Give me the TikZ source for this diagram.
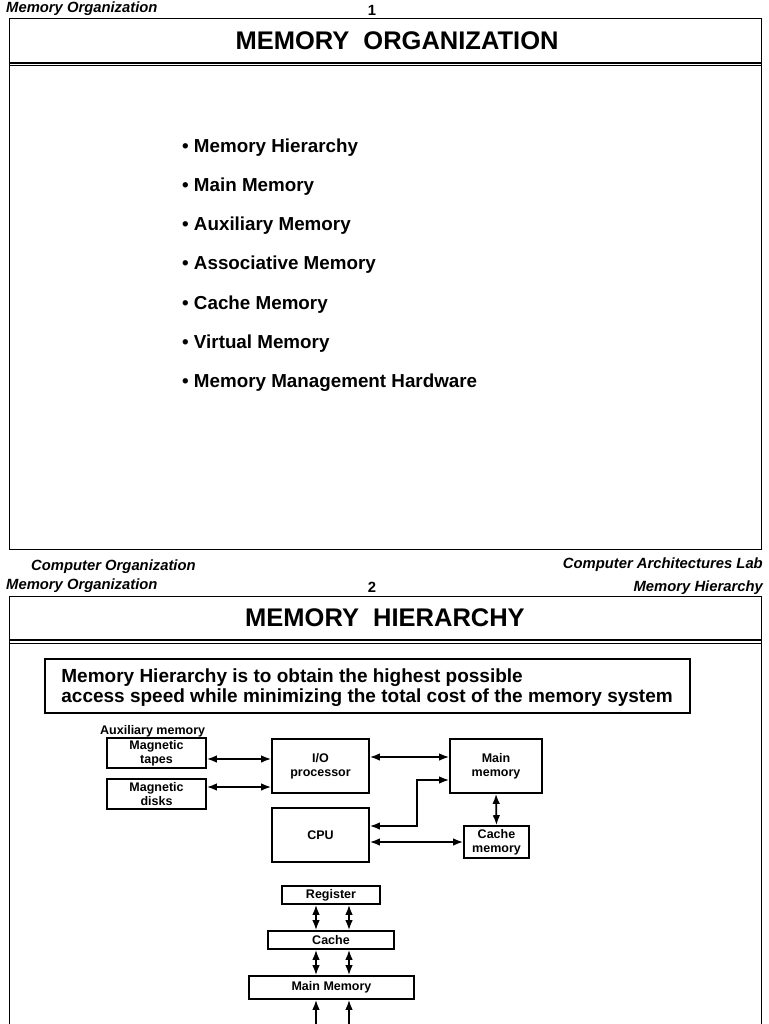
\documentclass[tikz,border=0pt]{standalone}
\usepackage{fontspec}
\setmainfont{Liberation Sans}
\usetikzlibrary{arrows.meta,positioning}
\newcommand{\SlideTop}[3]{% top y, title, title x
\draw[line width=1pt] (9,1060) -- (9,#1) -- (761,#1) -- (761,1060);
\draw[line width=1.2pt] (9,#1+44) -- (761,#1+44);
\draw[line width=1pt] (9,#1+47) -- (761,#1+47);
\node[title] at (#3,#1+22) {#2};
}
\newcommand{\PageMark}[4]{% y, left text, number, right text
\node[hdr,anchor=west] at (6,#1) {#2};
\node[hdrnum] at (372,#1+1) {#3};
\node[hdr,anchor=east] at (763,#1+2) {#4};
}

\begin{document}
\begin{tikzpicture}[x=1pt,y=-1pt,
  hdr/.style={inner sep=0pt,font=\fontsize{14.8}{16}\selectfont\bfseries\itshape},
  hdrnum/.style={inner sep=0pt,font=\fontsize{14.8}{16}\selectfont\bfseries},
  title/.style={inner sep=0pt,font=\fontsize{25.5}{28}\selectfont\bfseries},
  bul/.style={inner sep=0pt,anchor=west,font=\fontsize{18.8}{21}\selectfont\bfseries},
  blk/.style={draw,line width=1.6pt,inner sep=0pt,align=center,
    font=\fontsize{12.5}{14}\selectfont\bfseries},
  conn/.style={arrows={Latex[length=10pt,width=7.5pt]-Latex[length=10pt,width=7.5pt]},line width=1.7pt}]
\useasboundingbox (0,0) rectangle (768,1024);
% slide 1
\node[hdr,anchor=west] (mark1) at (6,9) {Memory Organization};
\node[hdrnum] (num1) at (372,10) {1};
\draw[line width=1pt] (9,19) rectangle (761,549);
\draw[line width=1.2pt] (9,63) -- (761,63);
\draw[line width=1pt] (9,66) -- (761,66);
\node[title] (title1) at (397,41) {MEMORY\ \ ORGANIZATION};
\foreach \topic [count=\i from 0] in {Memory Hierarchy,Main Memory,Auxiliary Memory,
  Associative Memory,Cache Memory,Virtual Memory,Memory Management Hardware}
  \node[bul] (b\i) at (182,{147.5+39.2*\i}) {• \topic};
\node[hdr,anchor=west] (foot1) at (31,567) {Computer Organization};
\node[hdr,anchor=east] (lab1) at (763,565) {Computer Architectures Lab};
% slide 2
\PageMark{586}{Memory Organization}{2}{Memory Hierarchy}
\SlideTop{596}{MEMORY\ \ HIERARCHY}{385}
\node[draw,line width=1.6pt,minimum width=645,minimum height=54,inner sep=0pt]
  (goal) at (367.5,686) {};
\node[inner sep=0pt,anchor=west,align=left,font=\fontsize{19}{19.5}\selectfont\bfseries]
  (goaltxt) at ([xshift=17pt,yshift=-1.5pt]goal.west)
  {Memory Hierarchy is to obtain the highest possible\\
   access speed while minimizing the total cost of the memory system};
% block diagram
\node[inner sep=0pt,anchor=west,font=\fontsize{12.5}{13.5}\selectfont\bfseries]
  (aux) at (100,731) {Auxiliary memory};
\node[blk,minimum width=99,minimum height=30] (tapes) at (156.5,753) {Magnetic\\tapes};
\node[blk,minimum width=99,minimum height=30] (disks) at (156.5,794) {Magnetic\\disks};
\node[blk,minimum width=97,minimum height=54] (iop) at (320.5,766) {I/O\\processor};
\node[blk,minimum width=97,minimum height=54] (cpu) at (320.5,835) {CPU};
\node[blk,minimum width=92,minimum height=54] (mainm) at (496,766) {Main\\memory};
\node[blk,minimum width=65,minimum height=32] (cachem) at (496.5,842) {Cache\\memory};
\coordinate (bend) at (417,826);
\draw[conn] ([yshift=-6pt]tapes.east) -- ([yshift=-6pt]tapes.east -| iop.west);
\draw[conn] ([yshift=7pt]disks.east) -- ([yshift=7pt]disks.east -| iop.west);
\draw[conn] ([yshift=9pt]iop.east) -- ([yshift=9pt]iop.east -| mainm.west);
\draw[conn] ([yshift=-14pt]mainm.west) -| (bend) -- (bend -| cpu.east);
\draw[conn] (cachem.west -| cpu.east) -- (cachem.west);
\draw[conn] (mainm.south) -- (cachem.north);
% hierarchy stack
\node[blk,minimum width=98,minimum height=18] (reg) at (331,895) {Register};
\node[blk,minimum width=126,minimum height=18] (cache) at (331,940) {Cache};
\node[blk,minimum width=165,minimum height=23] (mem) at (331.5,987.5) {Main Memory};
\coordinate (down1) at (316,1040);
\coordinate (down2) at (349,1040);
\foreach \dx in {-15,18} {
  \draw[conn] ([xshift=\dx pt]reg.south) -- ([xshift=\dx pt]reg.south |- cache.north);
  \draw[conn] ([xshift=\dx pt]cache.south) -- ([xshift=\dx pt]cache.south |- mem.north);
}
\draw[conn] (mem.south -| down1) -- (down1);
\draw[conn] (mem.south -| down2) -- (down2);
\end{tikzpicture}
\end{document}
